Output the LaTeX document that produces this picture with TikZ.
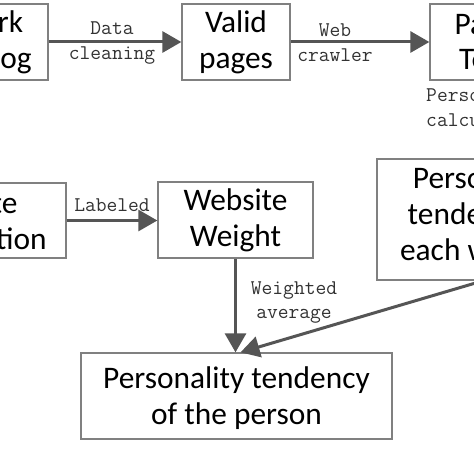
\documentclass[tikz,border=0pt]{standalone}
\usepackage{fontspec}
\setmainfont{Carlito}
\usetikzlibrary{arrows.meta}
\definecolor{boxgray}{HTML}{808080}
\definecolor{arrgray}{HTML}{555555}
\definecolor{labgray}{HTML}{333333}
\tikzset{
  box/.style={draw=boxgray, line width=1.3bp, inner sep=0pt, align=center,
    font=\fontsize{31.5}{36}\selectfont, text=black},
  lab/.style={inner sep=0pt, align=center,
    font=\ttfamily\fontsize{21}{25}\selectfont, text=labgray},
  arr/.style={draw=arrgray, line width=3bp, -{Triangle[length=19bp,width=21bp]}},
}
\begin{document}
\begin{tikzpicture}[x=1bp,y=-1bp]
\useasboundingbox (0,0) rectangle (474,474);
\clip (0,0) rectangle (474,474);
% boxes
\node[box, minimum width=160bp, minimum height=76bp] (log) at (-32,42) {Network\\access log};
\node[box, minimum width=108bp, minimum height=76bp] (valid) at (236,42) {Valid\\pages};
\node[box, minimum width=110bp, minimum height=76bp] (page) at (485,42) {Page\\Text};
\node[box, minimum width=201bp, minimum height=75bp] (class) at (-34.5,220.5) {Website\\classification};
\node[box, minimum width=155bp, minimum height=76bp] (weight) at (235.5,220) {Website\\Weight};
\node[box, minimum width=213bp, minimum height=121bp] (tend) at (483.5,219.5) {Personality\\tendency of\\each website\rule[-12bp]{0pt}{0pt}};
\node[box, minimum width=311bp, minimum height=86bp] (person) at (236.5,396) {\rule{0pt}{26bp}Personality tendency\\of the person};
% labels
\node[lab] (lclean) at (112,43) {Data\\cleaning};
\node[lab] (lcrawl) at (335,43) {Web\\crawler};
\node[lab] (lcalc) at (485.5,108) {Personality\\calculation};
\node[lab] (llab) at (112,205) {Labeled};
\node[lab] (lavg) at (294,302.5) {Weighted\\average};
% connectors
\draw[arr] (log) -- (valid);
\draw[arr] (valid) -- (page);
\draw[arr] (page.south) -- (page.south |- tend.north);
\draw[arr] (class.east) -- (class.east -| weight.west);
\draw[arr] (weight.south) -- (weight.south |- person.north);
\draw[arr] (tend.south) -- ([xshift=4bp]person.north);
\end{tikzpicture}
\end{document}
